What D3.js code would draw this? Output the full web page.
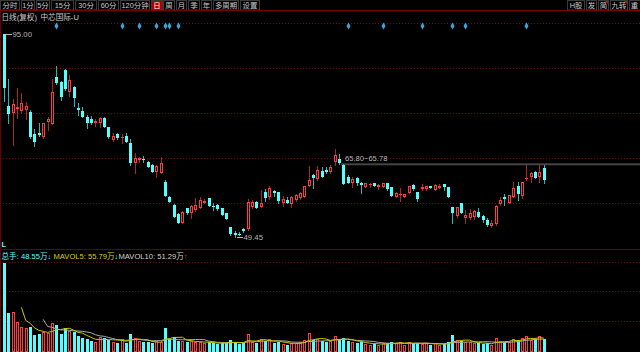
<!DOCTYPE html>
<html><head><meta charset="utf-8">
<script src="https://cdn.jsdelivr.net/npm/d3@7"></script>
<style>html,body{margin:0;padding:0;background:#000;}svg{display:block;}</style>
</head><body>
<svg id="c" width="640" height="352"></svg>
<script>
// ---- data (prices in CNY, volume in 万手) ----
const open  = [95.00,78.81,77.16,78.13,77.68,77.91,77.52,72.51,72.80,71.77,75.27,74.76,85.26,84.27,86.90,82.02,83.15,78.29,77.75,76.26,
75.81,74.91,74.91,76.04,74.01,71.16,72.51,71.54,72.06,70.55,65.92,66.66,66.82,66.28,65.54,64.03,63.67,61.78,58.27,56.54,
54.51,52.56,55.80,54.81,55.41,55.80,57.06,58.05,56.20,56.54,55.80,54.67,51.52,50.31,50.10,51.25,51.07,56.02,57.28,56.02,
59.53,58.27,59.76,59.53,57.06,57.66,56.76,57.66,58.05,58.41,60.81,63.29,62.32,64.19,64.30,64.03,66.28,66.82,65.54,62.90,
61.55,62.54,61.55,60.52,61.04,61.42,60.59,60.52,61.42,60.52,58.27,58.95,58.27,59.17,61.04,59.53,60.07,60.07,60.81,59.91,
60.29,61.19,60.52,56.02,54.06,56.92,53.55,53.55,53.91,55.03,54.06,53.16,51.82,52.26,56.76,58.41,56.92,58.41,60.81,58.56,
62.32,62.90,64.03,62.77,64.79];
const high  = [95.00,84.81,80.31,82.79,81.66,79.77,77.91,73.63,75.05,74.98,76.26,84.81,87.80,84.50,87.02,85.78,83.30,79.55,78.65,76.78,
76.56,75.81,76.26,76.22,74.08,72.80,72.80,72.51,72.67,71.32,68.30,67.34,67.56,66.44,65.65,65.54,67.33,62.16,58.45,56.65,
54.63,55.08,55.86,56.54,58.05,58.27,57.89,58.11,57.06,56.65,55.86,54.74,51.60,50.69,50.40,51.45,57.82,57.66,57.33,59.91,
60.07,60.81,59.91,59.57,58.56,58.27,58.56,59.01,59.57,60.92,65.31,63.40,65.31,65.15,65.15,65.54,69.07,68.01,65.78,63.29,
62.90,62.90,61.60,61.55,61.55,61.49,61.19,61.49,61.49,60.59,59.35,60.29,59.01,60.92,61.15,59.57,61.26,60.92,60.92,61.15,
61.26,61.26,60.59,56.09,56.16,56.99,55.41,55.57,55.41,55.80,54.29,53.55,53.16,56.43,58.27,59.01,58.79,61.78,61.78,61.78,
65.54,64.03,64.19,65.54,65.54];
const low   = [80.00,74.98,70.03,76.11,77.30,75.81,71.54,69.88,72.06,71.61,73.41,74.65,83.80,80.16,82.40,81.12,78.81,76.78,76.26,73.79,
74.76,74.37,74.01,74.08,71.61,70.93,71.32,70.55,70.71,65.54,63.80,66.21,66.21,64.97,63.96,62.90,63.62,58.45,57.21,53.84,
52.38,52.49,54.51,53.55,55.26,55.75,56.88,56.20,55.41,55.52,54.18,53.28,49.80,49.45,49.70,50.55,50.92,55.80,55.75,55.98,
57.51,57.82,58.56,56.92,56.31,56.92,56.16,57.44,57.89,58.34,60.70,60.29,62.16,62.77,63.67,63.67,65.54,65.80,61.15,61.42,
60.52,61.04,59.30,60.48,60.52,60.75,60.07,60.48,60.02,58.45,58.23,57.51,58.23,59.13,60.02,57.51,60.02,60.02,60.25,59.80,
60.25,59.91,58.23,52.56,53.91,54.63,52.56,53.50,53.32,53.84,52.78,51.82,51.66,52.15,56.54,56.54,56.88,58.34,57.66,58.05,
62.16,61.78,62.50,61.78,61.42];
const close = [82.92,77.01,79.26,78.51,79.55,78.81,71.77,70.78,72.35,74.91,75.81,82.02,83.91,80.90,82.56,84.65,80.54,77.91,76.40,75.05,
75.05,75.50,76.04,74.15,71.77,72.06,71.68,71.77,70.78,66.05,67.04,67.00,66.55,65.15,64.03,65.31,66.05,58.56,57.28,53.91,
52.56,55.03,54.67,56.31,56.54,57.66,57.37,56.31,55.98,55.57,54.29,53.32,49.95,49.68,49.90,50.75,57.28,57.28,55.80,57.06,
58.05,60.29,59.30,57.51,57.82,57.06,58.27,58.79,59.30,60.81,62.16,62.54,64.41,62.90,63.96,65.02,67.78,65.92,61.19,61.55,
62.32,61.42,61.04,61.42,61.19,60.81,61.04,61.42,60.07,58.56,59.30,59.08,58.95,60.81,60.07,57.82,60.52,60.81,60.29,61.04,
60.92,60.52,58.27,54.81,56.02,54.67,54.29,54.81,55.26,53.91,53.16,52.04,52.56,56.31,57.66,57.82,58.72,60.29,59.01,61.64,
62.54,63.80,62.54,64.03,62.16];
const volume = [370,158,162,120,100,94,100,66,68,77,74,116,106,70,97,81,77,60,53,50,
39,36,57,53,46,36,32,50,32,68,54,40,35,35,32,39,35,97,50,57,
39,39,35,40,38,36,30,35,30,28,33,30,45,35,28,32,70,38,33,50,
40,48,30,38,28,25,32,30,35,45,72,45,50,42,35,40,60,48,52,40,
35,30,38,28,25,28,25,30,32,38,30,35,25,35,30,32,28,30,25,30,
25,28,35,65,45,40,35,35,30,32,28,30,25,55,40,38,35,50,45,55,
60,45,50,60,48.55];
const eventDays = [12,27,31,35,37,38,40,79,87,96,103,106,120];   // info markers
const gapRange = [65.80, 65.78];  const gapDay = 78;
const toolbarLeft  = ["分时","1分","5分","15分","30分","60分","120分钟","日","周","月","季","年","多周期","设置"];
const toolbarRight = ["H股","发","简","九转","重"];
const title = ["日线(复权)","中芯国际-U"];
const volLabels = [["总手: 48.55万","↓"],["MAVOL5: 55.79万","↓"],["MAVOL10: 51.29万","↑"]];

// ---- drawing ----
const svg = d3.select("#c");
const W = 640, H = 352;
const UP = "#ff3c3c", UPW = "#b02424", DN = "#54ffff", DNW = "#2fb3b3";
const GRID = "#6a1010";
const font = "'Liberation Sans','Noto Sans CJK SC',sans-serif";
svg.append("rect").attr("width",W).attr("height",H).attr("fill","#000");

const n = open.length;
const days = d3.range(n);
const x = d3.scaleBand().domain(days).range([1.82, 1.82 + n*4.352]);
const cx = i => x(i) + x.bandwidth()/2;
const px = i => Math.round(cx(i)) - 1;
const y = d3.scaleLinear().domain([46.8, 97.3]).range([248.3, 23.7]);
const vy = d3.scaleLinear().domain([0, d3.max(volume)]).range([350.6, 262.7]);

// toolbar
const tbL = [[0,20],[21,35],[36,50],[51,74],[75,97],[98,119],[120,150],[151,163],[163,175],[176,187],[188,200],[201,212],[213,239],[240,260]];
const tbR = [[567,585],[586,597],[598,609],[610,628],[629,650]];
function drawButtons(labels, boxes){
  labels.forEach((t,k)=>{
    const [a,b] = boxes[k];
    const sel = t === "日";
    svg.append("rect").attr("x",a+0.5).attr("y",0.5).attr("width",b-a-1).attr("height",9.5)
      .attr("fill", sel ? "#b00000" : "#000").attr("stroke","#3a3a3a").attr("stroke-width",1);
    const tx = b > W ? a + 5.5 : (a+b)/2;
    svg.append("text").attr("x",tx).attr("y",8.3).attr("text-anchor","middle")
      .attr("font-family",font).attr("font-size",7.4).attr("fill", sel ? "#ffffff" : "#c8c8c8").text(t);
  });
}
drawButtons(toolbarLeft, tbL);
drawButtons(toolbarRight, tbR);
[2,3].forEach(k=>{ const b = tbR[k][1];
  svg.append("path").attr("d",`M${b-4},1 L${b-1},1 L${b-1},4 Z`).attr("fill","#e00000"); });
svg.append("line").attr("x1",0).attr("x2",W).attr("y1",10.5).attr("y2",10.5).attr("stroke","#7a0000");

// title
svg.append("text").attr("x",1.5).attr("y",19.8).attr("font-family",font).attr("font-size",7.6)
  .attr("fill","#c8c8c8").text(title[0]);
svg.append("text").attr("x",40.5).attr("y",19.8).attr("font-family",font).attr("font-size",7.6)
  .attr("fill","#c8c8c8").text(title[1]);

// grids
const dotted = (yy)=> svg.append("line").attr("x1",0).attr("x2",W).attr("y1",yy).attr("y2",yy)
  .attr("stroke",GRID).attr("stroke-dasharray","1,2");
[23.5,68.5,113.5,158.5,203.5].forEach(dotted);
[262.5,291.5,321.5].forEach(dotted);
svg.append("line").attr("x1",0).attr("x2",W).attr("y1",249.5).attr("y2",249.5).attr("stroke","#6a0000");
svg.append("line").attr("x1",0.5).attr("x2",0.5).attr("y1",11).attr("y2",H).attr("stroke","#6a0000");

// event markers
svg.selectAll("path.ev").data(eventDays).enter().append("path")
  .attr("d", d3.symbol(d3.symbolDiamond, 14))
  .attr("transform", d=>`translate(${Math.round(cx(d))+0.5},26)`).attr("fill","#3aa6dc");

// gap band
{
  const y0 = y(gapRange[0]), y1 = y(gapRange[1]);
  svg.append("rect").attr("x",x(gapDay)).attr("y",Math.min(y0,y1)-0.5).attr("width",W-x(gapDay))
    .attr("height",Math.max(2,Math.abs(y1-y0))).attr("fill","#444");
  svg.append("text").attr("x",cx(gapDay)+1.5).attr("y",Math.min(y0,y1)-2.5)
    .attr("font-family","'Liberation Sans',sans-serif").attr("font-size",7.6).attr("fill","#b4b4b4")
    .text(gapRange[0].toFixed(2)+"~"+gapRange[1].toFixed(2));
}

// candles
const g = svg.append("g");
days.forEach(i=>{
  const up = close[i] >= open[i];
  const bx = px(i);
  g.append("line").attr("x1",bx+1.5).attr("x2",bx+1.5)
    .attr("y1",Math.round(y(high[i]))).attr("y2",Math.round(y(low[i]))+1)
    .attr("stroke", up ? UPW : DNW).attr("stroke-width",1);
  const t = Math.round(y(Math.max(open[i],close[i])));
  const b = Math.max(t+1, Math.round(y(Math.min(open[i],close[i]))));
  if (up) {
    g.append("rect").attr("x",bx+0.5).attr("y",t+0.5).attr("width",2).attr("height",Math.max(b-t-1,0.01))
      .attr("fill","#000").attr("stroke",UP).attr("stroke-width",1);
  } else {
    g.append("rect").attr("x",bx).attr("y",t).attr("width",3).attr("height",b-t).attr("fill",DN);
  }
});

// extreme labels
function extLabel(i, price){
  const yy = Math.round(y(price)) + 0.5;
  svg.append("line").attr("x1",px(i)+3).attr("x2",px(i)+9).attr("y1",yy).attr("y2",yy).attr("stroke","#b4b4b4");
  svg.append("text").attr("x",px(i)+9.5).attr("y",yy+2.8).attr("font-family","'Liberation Sans',sans-serif")
    .attr("font-size",7.8).attr("fill","#b4b4b4").text(price.toFixed(2));
}
const iMax = d3.maxIndex(high), iMin = d3.minIndex(low);
extLabel(iMax, high[iMax]);
extLabel(iMin, low[iMin]);

// "L" marker
svg.append("text").attr("x",1.5).attr("y",246.5).attr("font-family","'Liberation Sans',sans-serif")
  .attr("font-size",7.5).attr("font-weight","bold").attr("fill",DN).text("L");

// volume bars
days.forEach(i=>{
  const up = close[i] >= open[i];
  const bx = px(i);
  const t = Math.round(vy(volume[i])), b = 351;
  if (up) {
    g.append("rect").attr("x",bx+0.5).attr("y",t+0.5).attr("width",2).attr("height",b-t)
      .attr("fill","#000").attr("stroke",UP).attr("stroke-width",1);
  } else {
    g.append("rect").attr("x",bx).attr("y",t).attr("width",3).attr("height",H-t).attr("fill",DN);
  }
});

// MA lines
function ma(k){ return days.map(i => i < k-1 ? null : d3.mean(volume.slice(i-k+1,i+1))); }
const line = d3.line().defined(d=>d[1]!=null).x(d=>cx(d[0])).y(d=>vy(d[1]));
svg.append("path").attr("d", line(days.map(i=>[i, ma(10)[i]]))).attr("fill","none").attr("stroke","#a8a8a8").attr("stroke-width",1);
svg.append("path").attr("d", line(days.map(i=>[i, ma(5)[i]]))).attr("fill","none").attr("stroke","#c8c800").attr("stroke-width",1);

// volume labels
{
  const cols = [DN, "#d2d200", "#d2d2d2"], arrowCols = [DN, DN, "#ff3030"];
  const xs = [1.5, 53.5, 118.5];
  volLabels.forEach((l,k)=>{
    const t = svg.append("text").attr("x",xs[k]).attr("y",259.3).attr("font-family",font).attr("font-size",7.6);
    t.append("tspan").attr("fill",cols[k]).text(l[0]);
    t.append("tspan").attr("fill",arrowCols[k]).text(l[1]);
  });
}
</script>
</body></html>
